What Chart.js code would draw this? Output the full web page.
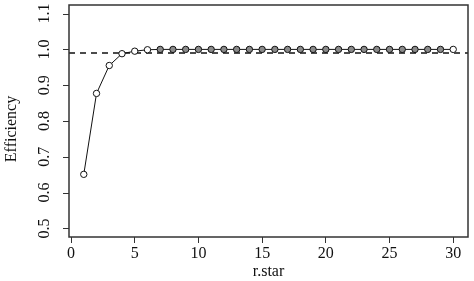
<!DOCTYPE html>
<html><head><meta charset="utf-8">
<script src="https://cdn.jsdelivr.net/npm/chart.js@4/dist/chart.umd.min.js"></script>
<style>html,body{margin:0;padding:0;background:#fff}#w{width:474px;height:281px}</style>
</head><body><div id="w"><canvas id="c"></canvas></div>
<script>
const rStar = [1,2,3,4,5,6,7,8,9,10,11,12,13,14,15,16,17,18,19,20,21,22,23,24,25,26,27,28,29,30];
const efficiency = [0.651,0.877,0.955,0.988,0.995,0.999,1,1,1,1,1,1,1,1,1,1,1,1,1,1,1,1,1,1,1,1,1,1,1,1];
const refLevel = 0.99;
const xTicks = [0,5,10,15,20,25,30];
const yTicks = [0.5,0.6,0.7,0.8,0.9,1.0,1.1];
const xLim = [-0.16, 31.16];
const yLim = [0.476, 1.124];

const FAM = '"Liberation Serif", "DejaVu Serif", serif';
const font = {family:FAM, size:16};

const boxPlugin = {
  id:'box',
  afterDraw(chart){
    const a = chart.chartArea, ctx = chart.ctx;
    ctx.save();
    ctx.strokeStyle = '#333';
    ctx.lineWidth = 1.5;
    ctx.strokeRect(a.left, a.top, a.right - a.left, a.bottom - a.top);
    const ys = chart.scales.y;
    // y tick marks
    ctx.lineWidth = 1;
    ctx.beginPath();
    yTicks.forEach(v => {
      const py = Math.round(ys.getPixelForValue(v)) + 0.5;
      ctx.moveTo(a.left - 6, py);
      ctx.lineTo(a.left, py);
    });
    ctx.stroke();
    // rotated y tick labels (R style)
    ctx.fillStyle = '#111';
    ctx.font = '16px ' + FAM;
    ctx.textAlign = 'center';
    ctx.textBaseline = 'middle';
    yTicks.forEach(v => {
      const py = ys.getPixelForValue(v);
      ctx.save();
      ctx.translate(45, py);
      ctx.rotate(-Math.PI/2);
      ctx.fillText(v.toFixed(1), 0, 0);
      ctx.restore();
    });
    // y axis title
    ctx.save();
    ctx.translate(12, 129);
    ctx.rotate(-Math.PI/2);
    ctx.fillText('Efficiency', 0, 0);
    ctx.restore();
    ctx.restore();
  }
};

new Chart(document.getElementById('c'), {
  type:'scatter',
  data:{
    datasets:[
      {
        data: rStar.map((x,i)=>({x, y: efficiency[i]})),
        showLine:true,
        borderColor:'#111',
        borderWidth:1,
        pointRadius:3.2,
        pointBorderWidth:1,
        pointBorderColor:'#111',
        pointBackgroundColor: ctx => (ctx.dataIndex >= 6 && ctx.dataIndex <= 28) ? '#8a8a8a' : '#fff',
        order:1
      },
      {
        data: [{x:xLim[0], y:refLevel},{x:xLim[1], y:refLevel}],
        showLine:true,
        borderColor:'#111',
        borderWidth:1.5,
        borderDash:[6,5],
        pointRadius:0,
        order:2
      }
    ]
  },
  options:{
    animation:false,
    responsive:true,
    maintainAspectRatio:false,
    devicePixelRatio:1,
    layout:{padding:{top:5,right:6,left:0,bottom:0}},
    plugins:{legend:{display:false},tooltip:{enabled:false}},
    scales:{
      x:{
        type:'linear', min:xLim[0], max:xLim[1],
        afterBuildTicks: s => { s.ticks = xTicks.map(v=>({value:v})); },
        afterFit: s => { s.height = 44; },
        grid:{drawOnChartArea:false, drawTicks:true, tickLength:6, color:'#333', lineWidth:1},
        border:{display:false},
        ticks:{color:'#111', font, padding:1, maxRotation:0, autoSkip:false},
        title:{display:true, text:'r.star', color:'#111', font, padding:{top:3,bottom:0}}
      },
      y:{
        type:'linear', min:yLim[0], max:yLim[1],
        afterBuildTicks: s => { s.ticks = yTicks.map(v=>({value:v})); },
        afterFit: s => { s.width = 69; },
        grid:{drawOnChartArea:false, drawTicks:false},
        border:{display:false},
        ticks:{display:false},
        title:{display:false}
      }
    }
  },
  plugins:[boxPlugin]
});
</script>
</body></html>
